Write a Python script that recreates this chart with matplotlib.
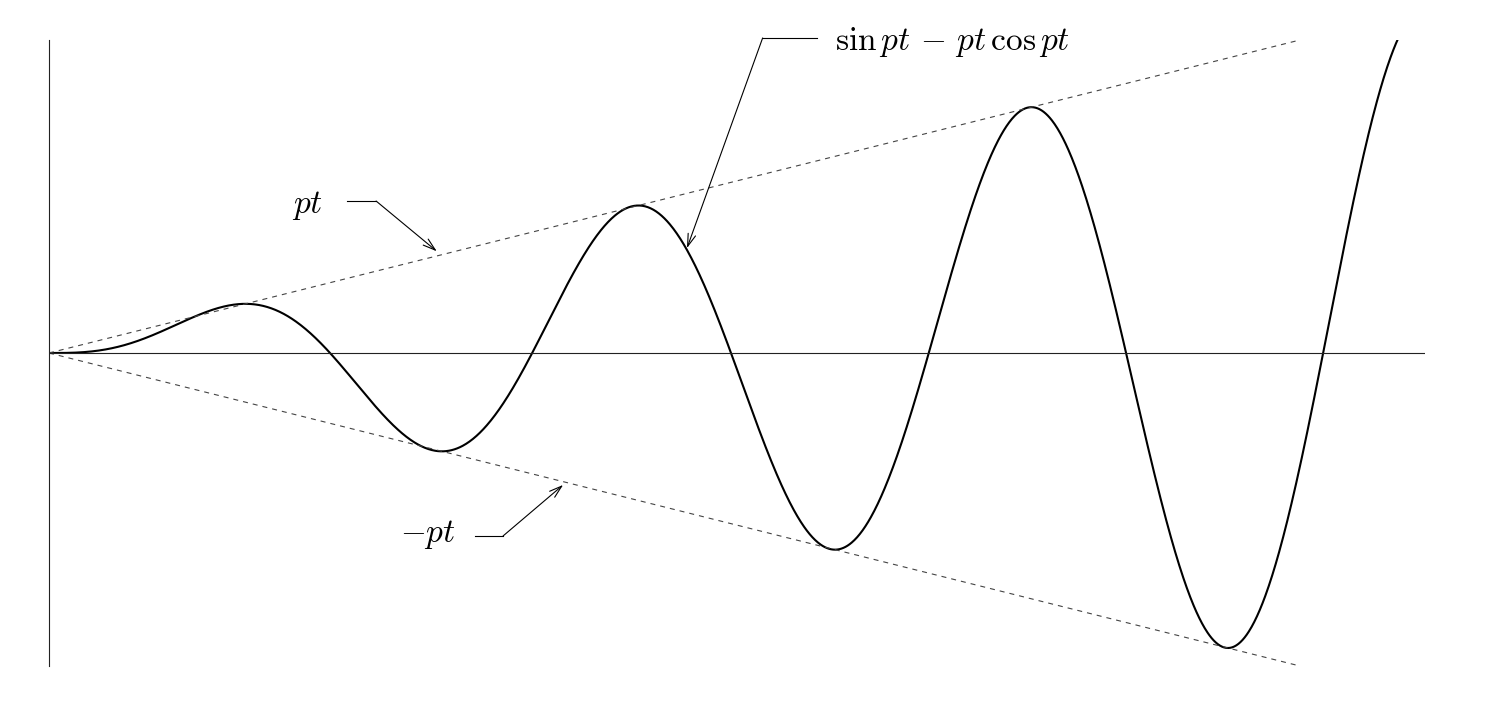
import numpy as np
import matplotlib.pyplot as plt

plt.rcParams['mathtext.fontset'] = 'cm'

# range of the plot in units of pt
t_max = 22.0
y_lim = 20.0
cone_end = 20.0

# labels
lbl_curve = r'$\sin pt\,-\,pt\,\cos pt$'
lbl_up = r'$pt$'
lbl_down = r'$-pt$'

t = np.linspace(0, t_max, 2000)
curve = np.sin(t) - t * np.cos(t)
t_cone = np.array([0.0, cone_end])

fig = plt.figure(figsize=(15.04, 7.08), dpi=100)
ax = fig.add_axes([49 / 1504, 42 / 708, 1376 / 1504, 626 / 708])

ax.plot(t, curve, 'k-', lw=1.5, solid_capstyle='butt')
ax.plot(t_cone, t_cone, color='#444444', lw=0.8, linestyle=(0, (4.5, 4.5)))
ax.plot(t_cone, -t_cone, color='#444444', lw=0.8, linestyle=(0, (4.5, 4.5)))
ax.axhline(0, color='#222222', lw=0.8)

ax.set_xlim(0, t_max)
ax.set_ylim(-y_lim, y_lim)
for s in ['top', 'right', 'bottom']:
    ax.spines[s].set_visible(False)
ax.spines['left'].set_linewidth(0.8)
ax.spines['left'].set_color('#222222')
ax.set_xticks([])
ax.set_yticks([])

arr = dict(arrowstyle='->, head_length=0.9, head_width=0.28', color='black', lw=0.8,
           shrinkA=0, shrinkB=0)

def leader(label, txt_xy, seg_x, elbow_y, tip):
    # label, short horizontal stroke, then a slanted arrow to the line
    ax.text(txt_xy[0], txt_xy[1], label, fontsize=24, ha='left', va='baseline')
    ax.plot(seg_x, [elbow_y, elbow_y], color='black', lw=0.8, clip_on=False)
    ax.annotate('', xy=tip, xytext=(seg_x[1], elbow_y),
                arrowprops=arr, annotation_clip=False)

leader(lbl_up, (3.88, 8.95), [4.76, 5.23], 9.71, (6.2, 6.5))
leader(lbl_down, (5.61, -12.08), [6.81, 7.26], -11.69, (8.22, -8.43))
leader(lbl_curve, (12.57, 19.36), [12.28, 11.41], 20.13, (10.2, 6.7))

fig.savefig('out.png', dpi=100)
